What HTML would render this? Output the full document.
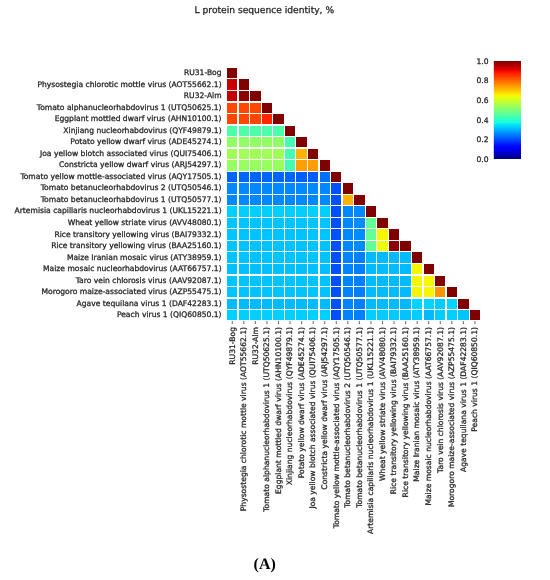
<!DOCTYPE html>
<html><head><meta charset="utf-8"><style>
html,body{margin:0;padding:0;background:#fff;width:550px;height:580px;overflow:hidden}
svg{display:block}
</style></head><body>
<svg width="550" height="580" viewBox="0 0 550 580" text-rendering="geometricPrecision">
<defs><linearGradient id="cb" x1="0" y1="1" x2="0" y2="0">
<stop offset="0.0000" stop-color="#000080"/>
<stop offset="0.0156" stop-color="#000092"/>
<stop offset="0.0312" stop-color="#0000a4"/>
<stop offset="0.0469" stop-color="#0000b6"/>
<stop offset="0.0625" stop-color="#0000c8"/>
<stop offset="0.0781" stop-color="#0000da"/>
<stop offset="0.0938" stop-color="#0000ed"/>
<stop offset="0.1094" stop-color="#0000ff"/>
<stop offset="0.1250" stop-color="#0000ff"/>
<stop offset="0.1406" stop-color="#0010ff"/>
<stop offset="0.1562" stop-color="#0020ff"/>
<stop offset="0.1719" stop-color="#0030ff"/>
<stop offset="0.1875" stop-color="#0040ff"/>
<stop offset="0.2031" stop-color="#0050ff"/>
<stop offset="0.2188" stop-color="#0060ff"/>
<stop offset="0.2344" stop-color="#0070ff"/>
<stop offset="0.2500" stop-color="#0080ff"/>
<stop offset="0.2656" stop-color="#0090ff"/>
<stop offset="0.2812" stop-color="#00a0ff"/>
<stop offset="0.2969" stop-color="#00b0ff"/>
<stop offset="0.3125" stop-color="#00c0ff"/>
<stop offset="0.3281" stop-color="#00d0ff"/>
<stop offset="0.3438" stop-color="#00e0fb"/>
<stop offset="0.3594" stop-color="#09f0ee"/>
<stop offset="0.3750" stop-color="#16ffe1"/>
<stop offset="0.3906" stop-color="#23ffd4"/>
<stop offset="0.4062" stop-color="#30ffc7"/>
<stop offset="0.4219" stop-color="#3cffba"/>
<stop offset="0.4375" stop-color="#49ffad"/>
<stop offset="0.4531" stop-color="#56ffa0"/>
<stop offset="0.4688" stop-color="#63ff94"/>
<stop offset="0.4844" stop-color="#70ff87"/>
<stop offset="0.5000" stop-color="#7dff7a"/>
<stop offset="0.5156" stop-color="#8aff6d"/>
<stop offset="0.5312" stop-color="#97ff60"/>
<stop offset="0.5469" stop-color="#a4ff53"/>
<stop offset="0.5625" stop-color="#b1ff46"/>
<stop offset="0.5781" stop-color="#beff39"/>
<stop offset="0.5938" stop-color="#caff2c"/>
<stop offset="0.6094" stop-color="#d7ff1f"/>
<stop offset="0.6250" stop-color="#e4ff13"/>
<stop offset="0.6406" stop-color="#f1fc06"/>
<stop offset="0.6562" stop-color="#feed00"/>
<stop offset="0.6719" stop-color="#ffde00"/>
<stop offset="0.6875" stop-color="#ffd000"/>
<stop offset="0.7031" stop-color="#ffc100"/>
<stop offset="0.7188" stop-color="#ffb200"/>
<stop offset="0.7344" stop-color="#ffa300"/>
<stop offset="0.7500" stop-color="#ff9400"/>
<stop offset="0.7656" stop-color="#ff8600"/>
<stop offset="0.7812" stop-color="#ff7700"/>
<stop offset="0.7969" stop-color="#ff6800"/>
<stop offset="0.8125" stop-color="#ff5900"/>
<stop offset="0.8281" stop-color="#ff4a00"/>
<stop offset="0.8438" stop-color="#ff3b00"/>
<stop offset="0.8594" stop-color="#ff2d00"/>
<stop offset="0.8750" stop-color="#ff1e00"/>
<stop offset="0.8906" stop-color="#fa0f00"/>
<stop offset="0.9062" stop-color="#e80000"/>
<stop offset="0.9219" stop-color="#d60000"/>
<stop offset="0.9375" stop-color="#c40000"/>
<stop offset="0.9531" stop-color="#b10000"/>
<stop offset="0.9688" stop-color="#9f0000"/>
<stop offset="0.9844" stop-color="#8d0000"/>
<stop offset="1.0000" stop-color="#800000"/>
</linearGradient></defs>
<rect x="0" y="0" width="550" height="580" fill="#fff"/>
<rect x="227.00" y="68.00" width="10.00" height="10.00" fill="#800000"/>
<rect x="227.00" y="79.00" width="10.00" height="11.00" fill="#c80000"/>
<rect x="239.00" y="79.00" width="10.00" height="11.00" fill="#800000"/>
<rect x="227.00" y="91.00" width="10.00" height="10.00" fill="#c40000"/>
<rect x="239.00" y="91.00" width="10.00" height="10.00" fill="#8d0000"/>
<rect x="250.00" y="91.00" width="11.00" height="10.00" fill="#800000"/>
<rect x="227.00" y="103.00" width="10.00" height="10.00" fill="#ff4700"/>
<rect x="239.00" y="103.00" width="10.00" height="10.00" fill="#ff4700"/>
<rect x="250.00" y="103.00" width="11.00" height="10.00" fill="#ff4700"/>
<rect x="262.00" y="103.00" width="10.00" height="10.00" fill="#800000"/>
<rect x="227.00" y="114.00" width="10.00" height="10.00" fill="#ff4700"/>
<rect x="239.00" y="114.00" width="10.00" height="10.00" fill="#ff4700"/>
<rect x="250.00" y="114.00" width="11.00" height="10.00" fill="#ff4700"/>
<rect x="262.00" y="114.00" width="10.00" height="10.00" fill="#ff2500"/>
<rect x="273.00" y="114.00" width="11.00" height="10.00" fill="#800000"/>
<rect x="227.00" y="126.00" width="10.00" height="10.00" fill="#4dffaa"/>
<rect x="239.00" y="126.00" width="10.00" height="10.00" fill="#4dffaa"/>
<rect x="250.00" y="126.00" width="11.00" height="10.00" fill="#4dffaa"/>
<rect x="262.00" y="126.00" width="10.00" height="10.00" fill="#4dffaa"/>
<rect x="273.00" y="126.00" width="11.00" height="10.00" fill="#4dffaa"/>
<rect x="285.00" y="126.00" width="10.00" height="10.00" fill="#800000"/>
<rect x="227.00" y="137.00" width="10.00" height="10.00" fill="#90ff66"/>
<rect x="239.00" y="137.00" width="10.00" height="10.00" fill="#90ff66"/>
<rect x="250.00" y="137.00" width="11.00" height="10.00" fill="#90ff66"/>
<rect x="262.00" y="137.00" width="10.00" height="10.00" fill="#90ff66"/>
<rect x="273.00" y="137.00" width="11.00" height="10.00" fill="#90ff66"/>
<rect x="285.00" y="137.00" width="10.00" height="10.00" fill="#43ffb4"/>
<rect x="296.00" y="137.00" width="11.00" height="10.00" fill="#800000"/>
<rect x="227.00" y="149.00" width="10.00" height="10.00" fill="#a0ff56"/>
<rect x="239.00" y="149.00" width="10.00" height="10.00" fill="#a0ff56"/>
<rect x="250.00" y="149.00" width="11.00" height="10.00" fill="#a0ff56"/>
<rect x="262.00" y="149.00" width="10.00" height="10.00" fill="#a0ff56"/>
<rect x="273.00" y="149.00" width="11.00" height="10.00" fill="#a0ff56"/>
<rect x="285.00" y="149.00" width="10.00" height="10.00" fill="#43ffb4"/>
<rect x="296.00" y="149.00" width="11.00" height="10.00" fill="#ffb200"/>
<rect x="308.00" y="149.00" width="10.00" height="10.00" fill="#800000"/>
<rect x="227.00" y="160.00" width="10.00" height="11.00" fill="#97ff60"/>
<rect x="239.00" y="160.00" width="10.00" height="11.00" fill="#97ff60"/>
<rect x="250.00" y="160.00" width="11.00" height="11.00" fill="#97ff60"/>
<rect x="262.00" y="160.00" width="10.00" height="11.00" fill="#97ff60"/>
<rect x="273.00" y="160.00" width="11.00" height="11.00" fill="#97ff60"/>
<rect x="285.00" y="160.00" width="10.00" height="11.00" fill="#43ffb4"/>
<rect x="296.00" y="160.00" width="11.00" height="11.00" fill="#ff9f00"/>
<rect x="308.00" y="160.00" width="10.00" height="11.00" fill="#ff9c00"/>
<rect x="320.00" y="160.00" width="10.00" height="11.00" fill="#800000"/>
<rect x="227.00" y="172.00" width="10.00" height="10.00" fill="#0065ff"/>
<rect x="239.00" y="172.00" width="10.00" height="10.00" fill="#0065ff"/>
<rect x="250.00" y="172.00" width="11.00" height="10.00" fill="#0065ff"/>
<rect x="262.00" y="172.00" width="10.00" height="10.00" fill="#0065ff"/>
<rect x="273.00" y="172.00" width="11.00" height="10.00" fill="#0065ff"/>
<rect x="285.00" y="172.00" width="10.00" height="10.00" fill="#0065ff"/>
<rect x="296.00" y="172.00" width="11.00" height="10.00" fill="#005dff"/>
<rect x="308.00" y="172.00" width="10.00" height="10.00" fill="#005dff"/>
<rect x="320.00" y="172.00" width="10.00" height="10.00" fill="#0070ff"/>
<rect x="331.00" y="172.00" width="10.00" height="10.00" fill="#800000"/>
<rect x="227.00" y="183.00" width="10.00" height="11.00" fill="#0089ff"/>
<rect x="239.00" y="183.00" width="10.00" height="11.00" fill="#0089ff"/>
<rect x="250.00" y="183.00" width="11.00" height="11.00" fill="#0089ff"/>
<rect x="262.00" y="183.00" width="10.00" height="11.00" fill="#0089ff"/>
<rect x="273.00" y="183.00" width="11.00" height="11.00" fill="#0089ff"/>
<rect x="285.00" y="183.00" width="10.00" height="11.00" fill="#0089ff"/>
<rect x="296.00" y="183.00" width="11.00" height="11.00" fill="#0089ff"/>
<rect x="308.00" y="183.00" width="10.00" height="11.00" fill="#0089ff"/>
<rect x="320.00" y="183.00" width="10.00" height="11.00" fill="#0089ff"/>
<rect x="331.00" y="183.00" width="10.00" height="11.00" fill="#0050ff"/>
<rect x="343.00" y="183.00" width="10.00" height="11.00" fill="#800000"/>
<rect x="227.00" y="195.00" width="10.00" height="10.00" fill="#0089ff"/>
<rect x="239.00" y="195.00" width="10.00" height="10.00" fill="#0089ff"/>
<rect x="250.00" y="195.00" width="11.00" height="10.00" fill="#0089ff"/>
<rect x="262.00" y="195.00" width="10.00" height="10.00" fill="#0089ff"/>
<rect x="273.00" y="195.00" width="11.00" height="10.00" fill="#0089ff"/>
<rect x="285.00" y="195.00" width="10.00" height="10.00" fill="#0089ff"/>
<rect x="296.00" y="195.00" width="11.00" height="10.00" fill="#0089ff"/>
<rect x="308.00" y="195.00" width="10.00" height="10.00" fill="#0089ff"/>
<rect x="320.00" y="195.00" width="10.00" height="10.00" fill="#0089ff"/>
<rect x="331.00" y="195.00" width="10.00" height="10.00" fill="#0050ff"/>
<rect x="343.00" y="195.00" width="10.00" height="10.00" fill="#ffb200"/>
<rect x="354.00" y="195.00" width="11.00" height="10.00" fill="#800000"/>
<rect x="227.00" y="206.00" width="10.00" height="11.00" fill="#00d0ff"/>
<rect x="239.00" y="206.00" width="10.00" height="11.00" fill="#00d0ff"/>
<rect x="250.00" y="206.00" width="11.00" height="11.00" fill="#00d0ff"/>
<rect x="262.00" y="206.00" width="10.00" height="11.00" fill="#00d0ff"/>
<rect x="273.00" y="206.00" width="11.00" height="11.00" fill="#00d0ff"/>
<rect x="285.00" y="206.00" width="10.00" height="11.00" fill="#00d0ff"/>
<rect x="296.00" y="206.00" width="11.00" height="11.00" fill="#00d0ff"/>
<rect x="308.00" y="206.00" width="10.00" height="11.00" fill="#00d0ff"/>
<rect x="320.00" y="206.00" width="10.00" height="11.00" fill="#00d0ff"/>
<rect x="331.00" y="206.00" width="10.00" height="11.00" fill="#0050ff"/>
<rect x="343.00" y="206.00" width="10.00" height="11.00" fill="#0089ff"/>
<rect x="354.00" y="206.00" width="11.00" height="11.00" fill="#0089ff"/>
<rect x="366.00" y="206.00" width="10.00" height="11.00" fill="#800000"/>
<rect x="227.00" y="218.00" width="10.00" height="10.00" fill="#00c4ff"/>
<rect x="239.00" y="218.00" width="10.00" height="10.00" fill="#00c4ff"/>
<rect x="250.00" y="218.00" width="11.00" height="10.00" fill="#00c4ff"/>
<rect x="262.00" y="218.00" width="10.00" height="10.00" fill="#00c4ff"/>
<rect x="273.00" y="218.00" width="11.00" height="10.00" fill="#00c4ff"/>
<rect x="285.00" y="218.00" width="10.00" height="10.00" fill="#00c4ff"/>
<rect x="296.00" y="218.00" width="11.00" height="10.00" fill="#00c4ff"/>
<rect x="308.00" y="218.00" width="10.00" height="10.00" fill="#00c4ff"/>
<rect x="320.00" y="218.00" width="10.00" height="10.00" fill="#00c4ff"/>
<rect x="331.00" y="218.00" width="10.00" height="10.00" fill="#0050ff"/>
<rect x="343.00" y="218.00" width="10.00" height="10.00" fill="#0089ff"/>
<rect x="354.00" y="218.00" width="11.00" height="10.00" fill="#008cff"/>
<rect x="366.00" y="218.00" width="10.00" height="10.00" fill="#63ff94"/>
<rect x="377.00" y="218.00" width="11.00" height="10.00" fill="#800000"/>
<rect x="227.00" y="229.00" width="10.00" height="11.00" fill="#00c4ff"/>
<rect x="239.00" y="229.00" width="10.00" height="11.00" fill="#00c4ff"/>
<rect x="250.00" y="229.00" width="11.00" height="11.00" fill="#00c4ff"/>
<rect x="262.00" y="229.00" width="10.00" height="11.00" fill="#00c4ff"/>
<rect x="273.00" y="229.00" width="11.00" height="11.00" fill="#00c4ff"/>
<rect x="285.00" y="229.00" width="10.00" height="11.00" fill="#00c4ff"/>
<rect x="296.00" y="229.00" width="11.00" height="11.00" fill="#00c4ff"/>
<rect x="308.00" y="229.00" width="10.00" height="11.00" fill="#00c4ff"/>
<rect x="320.00" y="229.00" width="10.00" height="11.00" fill="#00c4ff"/>
<rect x="331.00" y="229.00" width="10.00" height="11.00" fill="#0050ff"/>
<rect x="343.00" y="229.00" width="10.00" height="11.00" fill="#0089ff"/>
<rect x="354.00" y="229.00" width="11.00" height="11.00" fill="#008cff"/>
<rect x="366.00" y="229.00" width="10.00" height="11.00" fill="#63ff94"/>
<rect x="377.00" y="229.00" width="11.00" height="11.00" fill="#f8f500"/>
<rect x="389.00" y="229.00" width="10.00" height="11.00" fill="#800000"/>
<rect x="227.00" y="241.00" width="10.00" height="10.00" fill="#00c4ff"/>
<rect x="239.00" y="241.00" width="10.00" height="10.00" fill="#00c4ff"/>
<rect x="250.00" y="241.00" width="11.00" height="10.00" fill="#00c4ff"/>
<rect x="262.00" y="241.00" width="10.00" height="10.00" fill="#00c4ff"/>
<rect x="273.00" y="241.00" width="11.00" height="10.00" fill="#00c4ff"/>
<rect x="285.00" y="241.00" width="10.00" height="10.00" fill="#00c4ff"/>
<rect x="296.00" y="241.00" width="11.00" height="10.00" fill="#00c4ff"/>
<rect x="308.00" y="241.00" width="10.00" height="10.00" fill="#00c4ff"/>
<rect x="320.00" y="241.00" width="10.00" height="10.00" fill="#00c4ff"/>
<rect x="331.00" y="241.00" width="10.00" height="10.00" fill="#0050ff"/>
<rect x="343.00" y="241.00" width="10.00" height="10.00" fill="#0089ff"/>
<rect x="354.00" y="241.00" width="11.00" height="10.00" fill="#008cff"/>
<rect x="366.00" y="241.00" width="10.00" height="10.00" fill="#63ff94"/>
<rect x="377.00" y="241.00" width="11.00" height="10.00" fill="#ebff0c"/>
<rect x="389.00" y="241.00" width="10.00" height="10.00" fill="#8d0000"/>
<rect x="400.00" y="241.00" width="11.00" height="10.00" fill="#800000"/>
<rect x="227.00" y="252.00" width="10.00" height="11.00" fill="#00c4ff"/>
<rect x="239.00" y="252.00" width="10.00" height="11.00" fill="#00c4ff"/>
<rect x="250.00" y="252.00" width="11.00" height="11.00" fill="#00c4ff"/>
<rect x="262.00" y="252.00" width="10.00" height="11.00" fill="#00c4ff"/>
<rect x="273.00" y="252.00" width="11.00" height="11.00" fill="#00c4ff"/>
<rect x="285.00" y="252.00" width="10.00" height="11.00" fill="#00c4ff"/>
<rect x="296.00" y="252.00" width="11.00" height="11.00" fill="#00c4ff"/>
<rect x="308.00" y="252.00" width="10.00" height="11.00" fill="#00c4ff"/>
<rect x="320.00" y="252.00" width="10.00" height="11.00" fill="#00c4ff"/>
<rect x="331.00" y="252.00" width="10.00" height="11.00" fill="#0050ff"/>
<rect x="343.00" y="252.00" width="10.00" height="11.00" fill="#0084ff"/>
<rect x="354.00" y="252.00" width="11.00" height="11.00" fill="#0080ff"/>
<rect x="366.00" y="252.00" width="10.00" height="11.00" fill="#00bcff"/>
<rect x="377.00" y="252.00" width="11.00" height="11.00" fill="#00bcff"/>
<rect x="389.00" y="252.00" width="10.00" height="11.00" fill="#00bcff"/>
<rect x="400.00" y="252.00" width="11.00" height="11.00" fill="#00bcff"/>
<rect x="412.00" y="252.00" width="10.00" height="11.00" fill="#800000"/>
<rect x="227.00" y="264.00" width="10.00" height="10.00" fill="#00c0ff"/>
<rect x="239.00" y="264.00" width="10.00" height="10.00" fill="#00c0ff"/>
<rect x="250.00" y="264.00" width="11.00" height="10.00" fill="#00c0ff"/>
<rect x="262.00" y="264.00" width="10.00" height="10.00" fill="#00c0ff"/>
<rect x="273.00" y="264.00" width="11.00" height="10.00" fill="#00c0ff"/>
<rect x="285.00" y="264.00" width="10.00" height="10.00" fill="#00c0ff"/>
<rect x="296.00" y="264.00" width="11.00" height="10.00" fill="#00c0ff"/>
<rect x="308.00" y="264.00" width="10.00" height="10.00" fill="#00c0ff"/>
<rect x="320.00" y="264.00" width="10.00" height="10.00" fill="#00c0ff"/>
<rect x="331.00" y="264.00" width="10.00" height="10.00" fill="#0050ff"/>
<rect x="343.00" y="264.00" width="10.00" height="10.00" fill="#0084ff"/>
<rect x="354.00" y="264.00" width="11.00" height="10.00" fill="#0080ff"/>
<rect x="366.00" y="264.00" width="10.00" height="10.00" fill="#00bcff"/>
<rect x="377.00" y="264.00" width="11.00" height="10.00" fill="#00bcff"/>
<rect x="389.00" y="264.00" width="10.00" height="10.00" fill="#00bcff"/>
<rect x="400.00" y="264.00" width="11.00" height="10.00" fill="#00bcff"/>
<rect x="412.00" y="264.00" width="10.00" height="10.00" fill="#f8f500"/>
<rect x="424.00" y="264.00" width="10.00" height="10.00" fill="#800000"/>
<rect x="227.00" y="276.00" width="10.00" height="10.00" fill="#00c4ff"/>
<rect x="239.00" y="276.00" width="10.00" height="10.00" fill="#00c4ff"/>
<rect x="250.00" y="276.00" width="11.00" height="10.00" fill="#00c4ff"/>
<rect x="262.00" y="276.00" width="10.00" height="10.00" fill="#00c4ff"/>
<rect x="273.00" y="276.00" width="11.00" height="10.00" fill="#00c4ff"/>
<rect x="285.00" y="276.00" width="10.00" height="10.00" fill="#00c4ff"/>
<rect x="296.00" y="276.00" width="11.00" height="10.00" fill="#00c4ff"/>
<rect x="308.00" y="276.00" width="10.00" height="10.00" fill="#00c4ff"/>
<rect x="320.00" y="276.00" width="10.00" height="10.00" fill="#00c4ff"/>
<rect x="331.00" y="276.00" width="10.00" height="10.00" fill="#0050ff"/>
<rect x="343.00" y="276.00" width="10.00" height="10.00" fill="#0084ff"/>
<rect x="354.00" y="276.00" width="11.00" height="10.00" fill="#0080ff"/>
<rect x="366.00" y="276.00" width="10.00" height="10.00" fill="#00bcff"/>
<rect x="377.00" y="276.00" width="11.00" height="10.00" fill="#00bcff"/>
<rect x="389.00" y="276.00" width="10.00" height="10.00" fill="#00bcff"/>
<rect x="400.00" y="276.00" width="11.00" height="10.00" fill="#00bcff"/>
<rect x="412.00" y="276.00" width="10.00" height="10.00" fill="#f8f500"/>
<rect x="424.00" y="276.00" width="10.00" height="10.00" fill="#f8f500"/>
<rect x="435.00" y="276.00" width="10.00" height="10.00" fill="#800000"/>
<rect x="227.00" y="287.00" width="10.00" height="10.00" fill="#00c4ff"/>
<rect x="239.00" y="287.00" width="10.00" height="10.00" fill="#00c4ff"/>
<rect x="250.00" y="287.00" width="11.00" height="10.00" fill="#00c4ff"/>
<rect x="262.00" y="287.00" width="10.00" height="10.00" fill="#00c4ff"/>
<rect x="273.00" y="287.00" width="11.00" height="10.00" fill="#00c4ff"/>
<rect x="285.00" y="287.00" width="10.00" height="10.00" fill="#00c4ff"/>
<rect x="296.00" y="287.00" width="11.00" height="10.00" fill="#00c4ff"/>
<rect x="308.00" y="287.00" width="10.00" height="10.00" fill="#00c4ff"/>
<rect x="320.00" y="287.00" width="10.00" height="10.00" fill="#00c4ff"/>
<rect x="331.00" y="287.00" width="10.00" height="10.00" fill="#0050ff"/>
<rect x="343.00" y="287.00" width="10.00" height="10.00" fill="#0084ff"/>
<rect x="354.00" y="287.00" width="11.00" height="10.00" fill="#0080ff"/>
<rect x="366.00" y="287.00" width="10.00" height="10.00" fill="#00bcff"/>
<rect x="377.00" y="287.00" width="11.00" height="10.00" fill="#00bcff"/>
<rect x="389.00" y="287.00" width="10.00" height="10.00" fill="#00bcff"/>
<rect x="400.00" y="287.00" width="11.00" height="10.00" fill="#00bcff"/>
<rect x="412.00" y="287.00" width="10.00" height="10.00" fill="#f8f500"/>
<rect x="424.00" y="287.00" width="10.00" height="10.00" fill="#f8f500"/>
<rect x="435.00" y="287.00" width="10.00" height="10.00" fill="#ff9400"/>
<rect x="447.00" y="287.00" width="10.00" height="10.00" fill="#800000"/>
<rect x="227.00" y="299.00" width="10.00" height="10.00" fill="#00bcff"/>
<rect x="239.00" y="299.00" width="10.00" height="10.00" fill="#00bcff"/>
<rect x="250.00" y="299.00" width="11.00" height="10.00" fill="#00bcff"/>
<rect x="262.00" y="299.00" width="10.00" height="10.00" fill="#00bcff"/>
<rect x="273.00" y="299.00" width="11.00" height="10.00" fill="#00bcff"/>
<rect x="285.00" y="299.00" width="10.00" height="10.00" fill="#00bcff"/>
<rect x="296.00" y="299.00" width="11.00" height="10.00" fill="#00bcff"/>
<rect x="308.00" y="299.00" width="10.00" height="10.00" fill="#00bcff"/>
<rect x="320.00" y="299.00" width="10.00" height="10.00" fill="#00bcff"/>
<rect x="331.00" y="299.00" width="10.00" height="10.00" fill="#0050ff"/>
<rect x="343.00" y="299.00" width="10.00" height="10.00" fill="#0084ff"/>
<rect x="354.00" y="299.00" width="11.00" height="10.00" fill="#0080ff"/>
<rect x="366.00" y="299.00" width="10.00" height="10.00" fill="#00bcff"/>
<rect x="377.00" y="299.00" width="11.00" height="10.00" fill="#00bcff"/>
<rect x="389.00" y="299.00" width="10.00" height="10.00" fill="#00bcff"/>
<rect x="400.00" y="299.00" width="11.00" height="10.00" fill="#00b9ff"/>
<rect x="412.00" y="299.00" width="10.00" height="10.00" fill="#00d4ff"/>
<rect x="424.00" y="299.00" width="10.00" height="10.00" fill="#00d4ff"/>
<rect x="435.00" y="299.00" width="10.00" height="10.00" fill="#00ccff"/>
<rect x="447.00" y="299.00" width="10.00" height="10.00" fill="#00d4ff"/>
<rect x="458.00" y="299.00" width="11.00" height="10.00" fill="#800000"/>
<rect x="227.00" y="310.00" width="10.00" height="10.00" fill="#00d0ff"/>
<rect x="239.00" y="310.00" width="10.00" height="10.00" fill="#00d0ff"/>
<rect x="250.00" y="310.00" width="11.00" height="10.00" fill="#00d0ff"/>
<rect x="262.00" y="310.00" width="10.00" height="10.00" fill="#00d0ff"/>
<rect x="273.00" y="310.00" width="11.00" height="10.00" fill="#00d0ff"/>
<rect x="285.00" y="310.00" width="10.00" height="10.00" fill="#00d0ff"/>
<rect x="296.00" y="310.00" width="11.00" height="10.00" fill="#00d0ff"/>
<rect x="308.00" y="310.00" width="10.00" height="10.00" fill="#00d0ff"/>
<rect x="320.00" y="310.00" width="10.00" height="10.00" fill="#00d0ff"/>
<rect x="331.00" y="310.00" width="10.00" height="10.00" fill="#0050ff"/>
<rect x="343.00" y="310.00" width="10.00" height="10.00" fill="#0084ff"/>
<rect x="354.00" y="310.00" width="11.00" height="10.00" fill="#0080ff"/>
<rect x="366.00" y="310.00" width="10.00" height="10.00" fill="#00d0ff"/>
<rect x="377.00" y="310.00" width="11.00" height="10.00" fill="#00ccff"/>
<rect x="389.00" y="310.00" width="10.00" height="10.00" fill="#00ccff"/>
<rect x="400.00" y="310.00" width="11.00" height="10.00" fill="#00c4ff"/>
<rect x="412.00" y="310.00" width="10.00" height="10.00" fill="#00ccff"/>
<rect x="424.00" y="310.00" width="10.00" height="10.00" fill="#00b9ff"/>
<rect x="435.00" y="310.00" width="10.00" height="10.00" fill="#00ccff"/>
<rect x="447.00" y="310.00" width="10.00" height="10.00" fill="#00d0ff"/>
<rect x="458.00" y="310.00" width="11.00" height="10.00" fill="#00c4ff"/>
<rect x="470.00" y="310.00" width="10.00" height="10.00" fill="#800000"/>
<g font-family="DejaVu Sans, Liberation Sans, sans-serif" font-size="7.6" fill="#262626" stroke="#262626" stroke-width="0.28">
<text x="221.6" y="75.07" text-anchor="end">RU31-Bog</text>
<text x="221.6" y="86.60" text-anchor="end">Physostegia chlorotic mottle virus (AOT55662.1)</text>
<text x="221.6" y="98.14" text-anchor="end">RU32-Alm</text>
<text x="221.6" y="109.67" text-anchor="end">Tomato alphanucleorhabdovirus 1 (UTQ50625.1)</text>
<text x="221.6" y="121.21" text-anchor="end">Eggplant mottled dwarf virus (AHN10100.1)</text>
<text x="221.6" y="132.74" text-anchor="end">Xinjiang nucleorhabdovirus (QYF49879.1)</text>
<text x="221.6" y="144.28" text-anchor="end">Potato yellow dwarf virus (ADE45274.1)</text>
<text x="221.6" y="155.81" text-anchor="end">Joa yellow blotch associated virus (QUI75406.1)</text>
<text x="221.6" y="167.35" text-anchor="end">Constricta yellow dwarf virus (ARJ54297.1)</text>
<text x="221.6" y="178.88" text-anchor="end">Tomato yellow mottle-associated virus (AQY17505.1)</text>
<text x="221.6" y="190.42" text-anchor="end">Tomato betanucleorhabdovirus 2 (UTQ50546.1)</text>
<text x="221.6" y="201.95" text-anchor="end">Tomato betanucleorhabdovirus 1 (UTQ50577.1)</text>
<text x="221.6" y="213.49" text-anchor="end">Artemisia capillaris nucleorhabdovirus 1 (UKL15221.1)</text>
<text x="221.6" y="225.02" text-anchor="end">Wheat yellow striate virus (AVV48080.1)</text>
<text x="221.6" y="236.56" text-anchor="end">Rice transitory yellowing virus (BAI79332.1)</text>
<text x="221.6" y="248.09" text-anchor="end">Rice transitory yellowing virus (BAA25160.1)</text>
<text x="221.6" y="259.63" text-anchor="end">Maize Iranian mosaic virus (ATY38959.1)</text>
<text x="221.6" y="271.16" text-anchor="end">Maize mosaic nucleorhabdovirus (AAT66757.1)</text>
<text x="221.6" y="282.70" text-anchor="end">Taro vein chlorosis virus (AAV92087.1)</text>
<text x="221.6" y="294.23" text-anchor="end">Morogoro maize-associated virus (AZP55475.1)</text>
<text x="221.6" y="305.77" text-anchor="end">Agave tequilana virus 1 (DAF42283.1)</text>
<text x="221.6" y="317.30" text-anchor="end">Peach virus 1 (QIQ60850.1)</text>
<text transform="translate(234.58,327.0) rotate(-90)" text-anchor="end">RU31-Bog</text>
<text transform="translate(246.13,327.0) rotate(-90)" text-anchor="end">Physostegia chlorotic mottle virus (AOT55662.1)</text>
<text transform="translate(257.69,327.0) rotate(-90)" text-anchor="end">RU32-Alm</text>
<text transform="translate(269.24,327.0) rotate(-90)" text-anchor="end">Tomato alphanucleorhabdovirus 1 (UTQ50625.1)</text>
<text transform="translate(280.80,327.0) rotate(-90)" text-anchor="end">Eggplant mottled dwarf virus (AHN10100.1)</text>
<text transform="translate(292.35,327.0) rotate(-90)" text-anchor="end">Xinjiang nucleorhabdovirus (QYF49879.1)</text>
<text transform="translate(303.91,327.0) rotate(-90)" text-anchor="end">Potato yellow dwarf virus (ADE45274.1)</text>
<text transform="translate(315.46,327.0) rotate(-90)" text-anchor="end">Joa yellow blotch associated virus (QUI75406.1)</text>
<text transform="translate(327.02,327.0) rotate(-90)" text-anchor="end">Constricta yellow dwarf virus (ARJ54297.1)</text>
<text transform="translate(338.57,327.0) rotate(-90)" text-anchor="end">Tomato yellow mottle-associated virus (AQY17505.1)</text>
<text transform="translate(350.13,327.0) rotate(-90)" text-anchor="end">Tomato betanucleorhabdovirus 2 (UTQ50546.1)</text>
<text transform="translate(361.68,327.0) rotate(-90)" text-anchor="end">Tomato betanucleorhabdovirus 1 (UTQ50577.1)</text>
<text transform="translate(373.24,327.0) rotate(-90)" text-anchor="end">Artemisia capillaris nucleorhabdovirus 1 (UKL15221.1)</text>
<text transform="translate(384.79,327.0) rotate(-90)" text-anchor="end">Wheat yellow striate virus (AVV48080.1)</text>
<text transform="translate(396.35,327.0) rotate(-90)" text-anchor="end">Rice transitory yellowing virus (BAI79332.1)</text>
<text transform="translate(407.90,327.0) rotate(-90)" text-anchor="end">Rice transitory yellowing virus (BAA25160.1)</text>
<text transform="translate(419.46,327.0) rotate(-90)" text-anchor="end">Maize Iranian mosaic virus (ATY38959.1)</text>
<text transform="translate(431.01,327.0) rotate(-90)" text-anchor="end">Maize mosaic nucleorhabdovirus (AAT66757.1)</text>
<text transform="translate(442.57,327.0) rotate(-90)" text-anchor="end">Taro vein chlorosis virus (AAV92087.1)</text>
<text transform="translate(454.12,327.0) rotate(-90)" text-anchor="end">Morogoro maize-associated virus (AZP55475.1)</text>
<text transform="translate(465.68,327.0) rotate(-90)" text-anchor="end">Agave tequilana virus 1 (DAF42283.1)</text>
<text transform="translate(477.23,327.0) rotate(-90)" text-anchor="end">Peach virus 1 (QIQ60850.1)</text>
</g>
<line x1="232.28" y1="321.07" x2="232.28" y2="324.07" stroke="#262626" stroke-width="0.7"/>
<line x1="243.83" y1="321.07" x2="243.83" y2="324.07" stroke="#262626" stroke-width="0.7"/>
<line x1="255.39" y1="321.07" x2="255.39" y2="324.07" stroke="#262626" stroke-width="0.7"/>
<line x1="266.94" y1="321.07" x2="266.94" y2="324.07" stroke="#262626" stroke-width="0.7"/>
<line x1="278.50" y1="321.07" x2="278.50" y2="324.07" stroke="#262626" stroke-width="0.7"/>
<line x1="290.05" y1="321.07" x2="290.05" y2="324.07" stroke="#262626" stroke-width="0.7"/>
<line x1="301.61" y1="321.07" x2="301.61" y2="324.07" stroke="#262626" stroke-width="0.7"/>
<line x1="313.16" y1="321.07" x2="313.16" y2="324.07" stroke="#262626" stroke-width="0.7"/>
<line x1="324.72" y1="321.07" x2="324.72" y2="324.07" stroke="#262626" stroke-width="0.7"/>
<line x1="336.27" y1="321.07" x2="336.27" y2="324.07" stroke="#262626" stroke-width="0.7"/>
<line x1="347.83" y1="321.07" x2="347.83" y2="324.07" stroke="#262626" stroke-width="0.7"/>
<line x1="359.38" y1="321.07" x2="359.38" y2="324.07" stroke="#262626" stroke-width="0.7"/>
<line x1="370.94" y1="321.07" x2="370.94" y2="324.07" stroke="#262626" stroke-width="0.7"/>
<line x1="382.49" y1="321.07" x2="382.49" y2="324.07" stroke="#262626" stroke-width="0.7"/>
<line x1="394.05" y1="321.07" x2="394.05" y2="324.07" stroke="#262626" stroke-width="0.7"/>
<line x1="405.60" y1="321.07" x2="405.60" y2="324.07" stroke="#262626" stroke-width="0.7"/>
<line x1="417.16" y1="321.07" x2="417.16" y2="324.07" stroke="#262626" stroke-width="0.7"/>
<line x1="428.71" y1="321.07" x2="428.71" y2="324.07" stroke="#262626" stroke-width="0.7"/>
<line x1="440.27" y1="321.07" x2="440.27" y2="324.07" stroke="#262626" stroke-width="0.7"/>
<line x1="451.82" y1="321.07" x2="451.82" y2="324.07" stroke="#262626" stroke-width="0.7"/>
<line x1="463.38" y1="321.07" x2="463.38" y2="324.07" stroke="#262626" stroke-width="0.7"/>
<line x1="474.93" y1="321.07" x2="474.93" y2="324.07" stroke="#262626" stroke-width="0.7"/>
<rect x="493.8" y="61.0" width="27.20" height="98.00" fill="url(#cb)"/>
<g font-family="DejaVu Sans, Liberation Sans, sans-serif" font-size="7.6" fill="#262626" stroke="#262626" stroke-width="0.28" text-anchor="end">
<text x="488.6" y="161.75">0.0</text>
<text x="488.6" y="142.15">0.2</text>
<text x="488.6" y="122.55">0.4</text>
<text x="488.6" y="102.95">0.6</text>
<text x="488.6" y="83.35">0.8</text>
<text x="488.6" y="63.75">1.0</text>
</g>
<text x="194.6" y="13.4" font-family="DejaVu Sans, Liberation Sans, sans-serif" font-size="9.15" fill="#262626" stroke="#262626" stroke-width="0.28">L protein sequence identity, %</text>
<text x="253.6" y="569.4" font-family="Liberation Serif, serif" font-weight="bold" font-size="16" fill="#000">(A)</text>
</svg>
</body></html>
